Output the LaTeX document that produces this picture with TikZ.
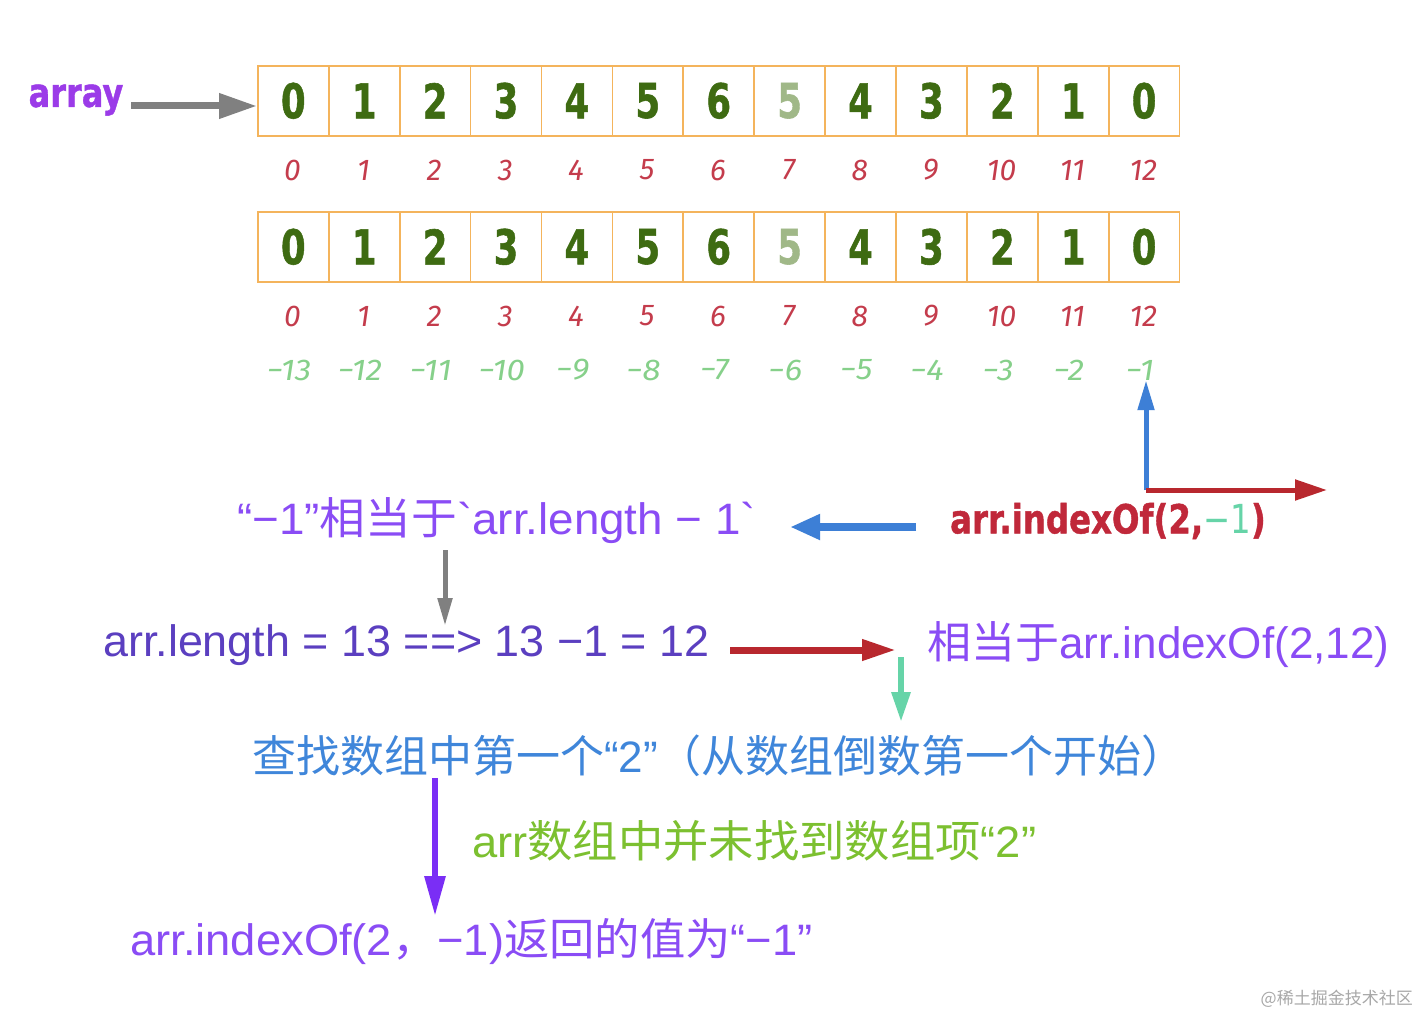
\documentclass[tikz,border=0pt]{standalone}
\usepackage{fontspec}
\setmainfont{Liberation Sans}
\newfontfamily\cjk{Noto Sans CJK SC}
\newfontfamily\rawfont{Liberation Sans}[Ligatures=TeXOff]
\newfontfamily\digitfont{DejaVu Sans}[BoldFeatures={FakeBold=1.2}]
\newfontfamily\idxfont{Fira Sans}
\newcommand{\zh}[1]{{\cjk #1}}
\newcommand{\bq}{{\rawfont\symbol{"60}}}
\usetikzlibrary{arrows.meta}
\definecolor{cellborder}{HTML}{F4B45C}
\definecolor{dgreen}{HTML}{3E6B12}
\definecolor{lgreen}{HTML}{A0B888}
\definecolor{idxred}{HTML}{C43C4C}
\definecolor{neggreen}{HTML}{86D08A}
\definecolor{arraypurple}{HTML}{9B3BE8}
\definecolor{arrgray}{HTML}{808080}
\definecolor{arrblue}{HTML}{3D7FD6}
\definecolor{arrred}{HTML}{B8282E}
\definecolor{txtred}{HTML}{C0283A}
\definecolor{teal}{HTML}{66D4A8}
\definecolor{purpA}{HTML}{8A4CF5}
\definecolor{purpB}{HTML}{5B3FC0}
\definecolor{txtblue}{HTML}{3F86DA}
\definecolor{arrpurple}{HTML}{7A2EF5}
\definecolor{txtgreen}{HTML}{7CC030}
\definecolor{wmgray}{HTML}{A8A8A8}
\tikzset{
  cellbox/.style={draw=cellborder, line width=1.6pt, minimum width=71pt, minimum height=70pt, inner sep=0pt, anchor=north west},
  digit/.style={font=\digitfont\bfseries\fontsize{48}{48}\selectfont, xscale=0.74},
  idx/.style={font=\idxfont\itshape\fontsize{30}{30}\selectfont, text=idxred, inner sep=0pt},
  neg/.style={font=\idxfont\itshape\fontsize{30}{30}\selectfont, text=neggreen, inner sep=0pt},
  lbl/.style={font=\fontsize{44}{44}\selectfont, inner sep=0pt, anchor=west},
}
\begin{document}
\begin{tikzpicture}[x=1pt,y=-1pt]
\useasboundingbox[fill=white] (0,0) rectangle (1420,1016);
% rows of cells
\foreach \v [count=\i from 0] in {0,1,2,3,4,5,6,5,4,3,2,1,0} {
  \pgfmathsetmacro{\xx}{257+70.9*\i}
  \ifnum\i=7 \def\dc{lgreen}\else\def\dc{dgreen}\fi
  \node[cellbox] (a\i) at (\xx,65) {};
  \node[digit, text=\dc] at (a\i.center) {\v};
  \node[cellbox] (b\i) at (\xx,211) {};
  \node[digit, text=\dc] at (b\i.center) {\v};
  \node[idx] (ia\i) at (\xx+35.5,170) {\i};
  \node[idx] (ib\i) at (\xx+35.5,316) {\i};
}
\foreach \n [count=\i from 0] in {13,12,11,10,9,8,7,6,5,4,3,2,1} {
  \pgfmathsetmacro{\xx}{257+70.9*\i+32}
  \node[neg, xscale=1.1] (n\i) at (\xx,370) {−\n};
}
% array label
\node[font=\digitfont\bfseries\fontsize{40}{40}\selectfont, text=arraypurple, xscale=0.8, inner sep=0pt] (arr) at (76,100) {array};
\coordinate (ga) at (131,106);
\draw[arrgray, line width=7pt, -{Triangle[length=38pt,width=24pt]}] (ga) -- (a0.west |- ga);

% indexOf
\node[font=\digitfont\bfseries\fontsize{40}{40}\selectfont, inner sep=0pt, text=txtred, xscale=0.81] (io) at (1108,521) {arr.indexOf(2,{\mdseries\color{teal}−1})};
\coordinate (corner) at (1146,490);
\coordinate (redend) at (1327,490);
\draw[arrblue, line width=5pt, -{Triangle[length=30pt,width=16pt]}] (corner) -- (n12.south -| corner);
\draw[arrred, line width=5pt, -{Triangle[length=32pt,width=20pt]}] (corner) -- (redend);

\node[lbl, text=purpA, xscale=1.04] (eq) at (237,521) {“−1”\zh{相当于}\bq arr.length − 1\bq};
\coordinate (bs) at (916,527);
\coordinate (be) at (790,527);
\draw[arrblue, line width=8pt, -{Triangle[length=30pt,width=24pt]}] (bs) -- (be);

\node[lbl, text=purpB, xscale=1.02] (len) at (103,645) {arr.length = 13 ==> 13 −1 = 12};
\coordinate (gs) at (445,550);
\coordinate (ge) at (445,626);
\draw[arrgray, line width=5pt, -{Triangle[length=28pt,width=14pt]}] (gs) -- (ge);
\node[lbl, text=purpA] (eq2) at (927,645) {\zh{相当于}arr.indexOf(2,12)};
\coordinate (rs) at (730,650);
\coordinate (re) at (896,650);
\draw[arrred, line width=7pt, -{Triangle[length=34pt,width=20pt]}] (rs) -- (re);

\coordinate (ts) at (901,657);
\coordinate (te) at (901,722);
\draw[teal, line width=6pt, -{Triangle[length=30pt,width=18pt]}] (ts) -- (te);
\node[lbl, text=txtblue] (find) at (252,756) {\zh{查找数组中第一个}“2”\zh{（从数组倒数第一个开始）}};

\coordinate (ps) at (435,778);
\coordinate (pe) at (435,916);
\draw[arrpurple, line width=6pt, -{Triangle[length=40pt,width=20pt]}] (ps) -- (pe);
\node[lbl, text=txtgreen, xscale=1.03] (nf) at (472,841) {arr\zh{数组中并未找到数组项}“2”};
\node[lbl, text=purpA, xscale=1.03] (res) at (130,941) {arr.indexOf(2\zh{，}−1)\zh{返回的值为}“−1”};

\node[font=\cjk\fontsize{17}{17}\selectfont, text=wmgray, anchor=east, inner sep=0pt] (wm) at (1413,999) {@稀土掘金技术社区};
\end{tikzpicture}
\end{document}
